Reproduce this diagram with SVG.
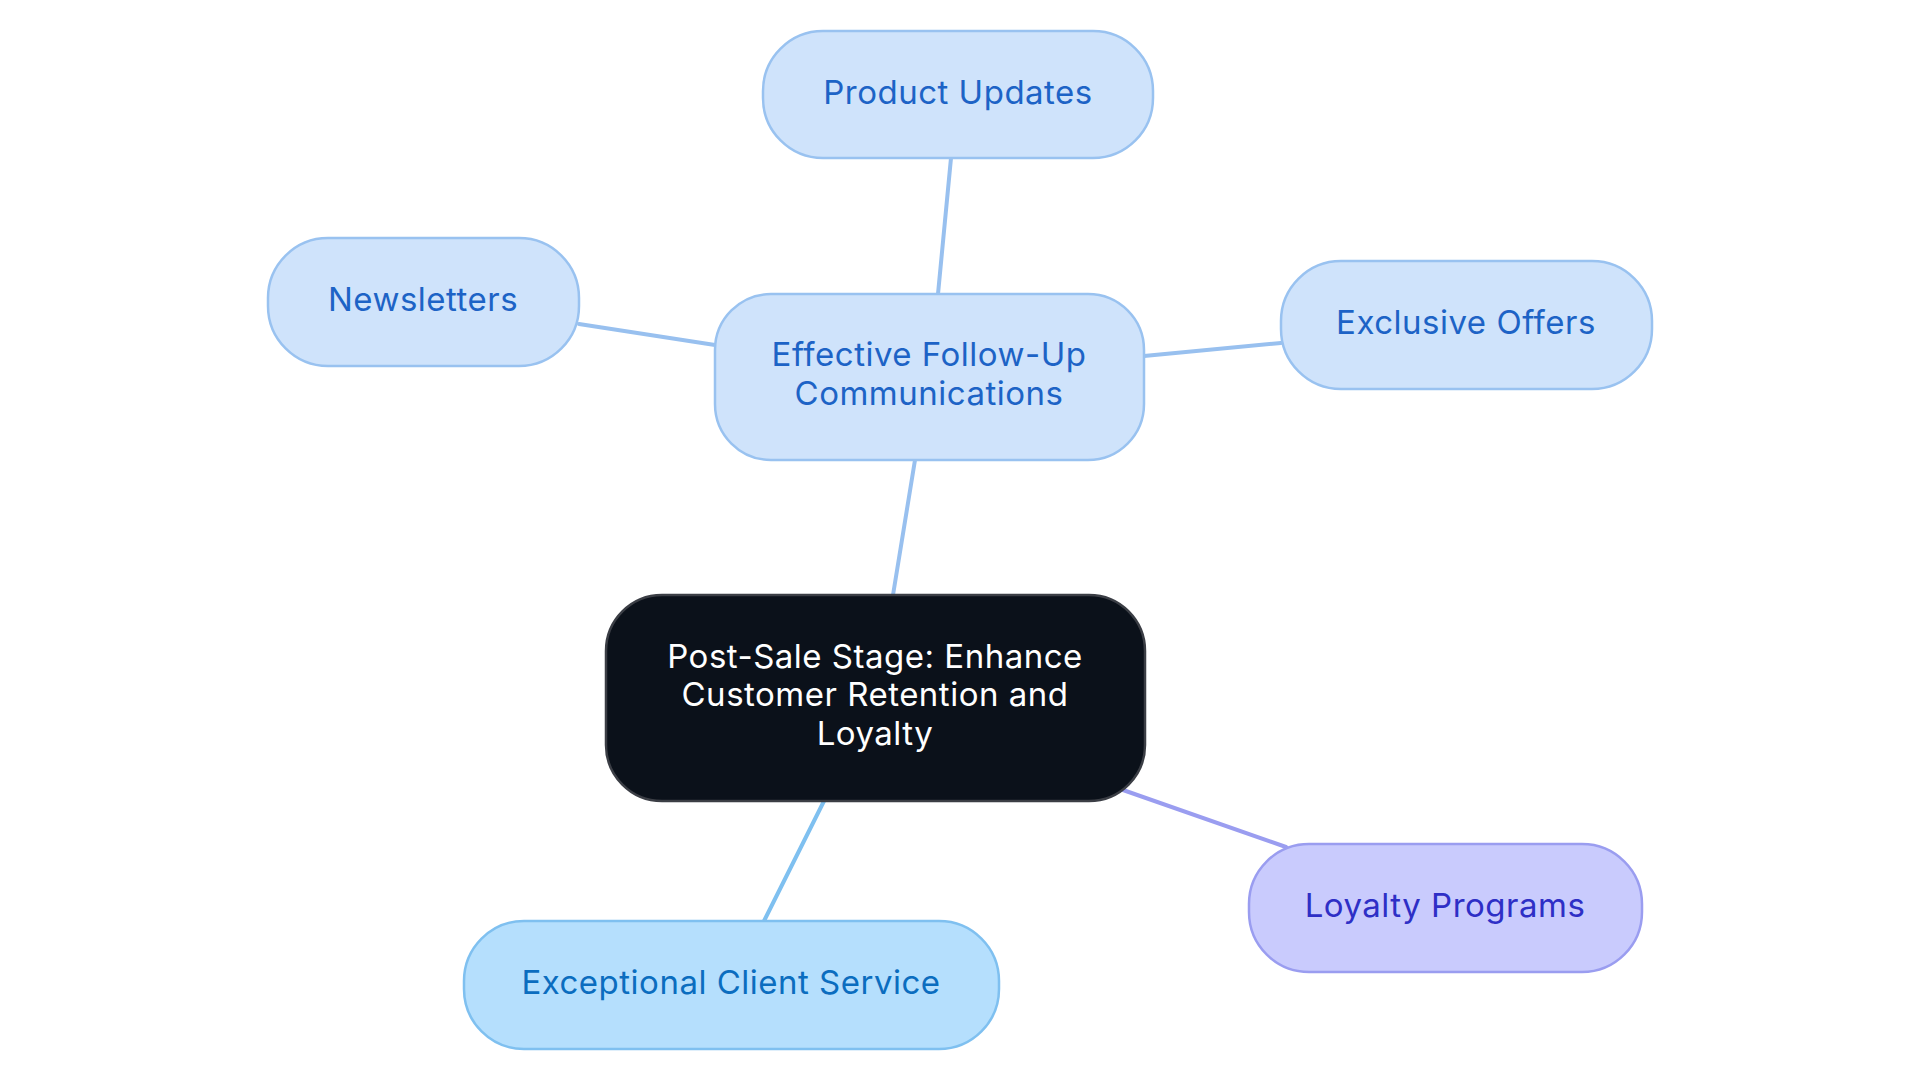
<svg xmlns="http://www.w3.org/2000/svg" width="1920" height="1083" viewBox="0 0 1920 1083">
<style>
text{font-family:Inter,"Noto Sans","Liberation Sans",sans-serif;font-size:33px;letter-spacing:0.5px;text-anchor:middle;dominant-baseline:central}
.b rect{fill:#cfe3fb;stroke:#99c2f0;stroke-width:2.5}
.b text{fill:#1d63c6}
.c rect{fill:#b5dffd;stroke:#7fc0f0;stroke-width:2.5}
.c text{fill:#0b6dbf}
.p rect{fill:#c9cbfd;stroke:#9a9df0;stroke-width:2.5}
.p text{fill:#2e2fc6}
.r rect{fill:#0b111a;stroke:#3b3e45;stroke-width:2.5}
.r text{fill:#ffffff}
#edges line{stroke-width:4;stroke-linecap:round}
</style>
<rect width="1920" height="1083" fill="#ffffff"/>
<g id="edges">
<line x1="893" y1="595" x2="915" y2="460" stroke="#98c0ef"/>
<line x1="938" y1="294" x2="951" y2="158" stroke="#98c0ef"/>
<line x1="715" y1="345" x2="579" y2="324" stroke="#98c0ef"/>
<line x1="1144" y1="356" x2="1281" y2="343" stroke="#98c0ef"/>
<line x1="1123" y1="790" x2="1286" y2="847" stroke="#9a9df0"/>
<line x1="824" y1="801" x2="764" y2="921" stroke="#7fc0f0"/>
</g>
<g id="root" class="r">
<rect x="606" y="595" width="539" height="206" rx="56"/>
<text x="875" y="656">Post-Sale Stage: Enhance</text>
<text x="875" y="694">Customer Retention and</text>
<text x="875" y="733">Loyalty</text>
</g>
<g id="effective" class="b">
<rect x="715" y="294" width="429" height="166" rx="56"/>
<text x="929" y="354">Effective Follow-Up</text>
<text x="929" y="393">Communications</text>
</g>
<g id="product" class="b">
<rect x="763" y="31" width="390" height="127" rx="60"/>
<text x="958" y="92">Product Updates</text>
</g>
<g id="newsletters" class="b">
<rect x="268" y="238" width="311" height="128" rx="60"/>
<text x="423" y="299">Newsletters</text>
</g>
<g id="exclusive" class="b">
<rect x="1281" y="261" width="371" height="128" rx="60"/>
<text x="1466" y="322">Exclusive Offers</text>
</g>
<g id="loyalty" class="p">
<rect x="1249" y="844" width="393" height="128" rx="60"/>
<text x="1445" y="905">Loyalty Programs</text>
</g>
<g id="exceptional" class="c">
<rect x="464" y="921" width="535" height="128" rx="60"/>
<text x="731" y="982">Exceptional Client Service</text>
</g>
</svg>
